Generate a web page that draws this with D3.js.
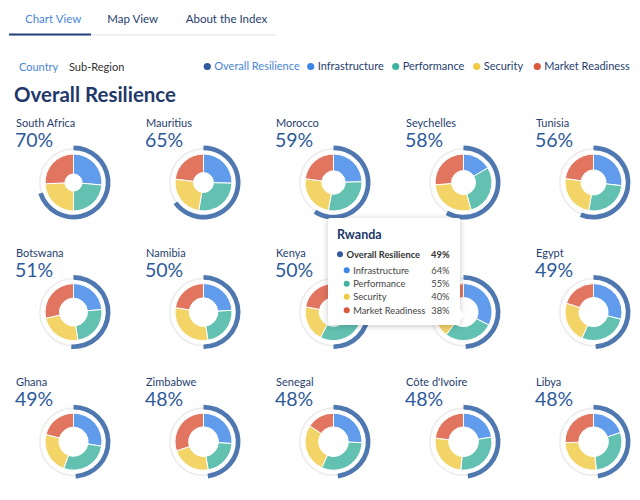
<!DOCTYPE html>
<html>
<head>
<meta charset="utf-8">
<script src="https://cdn.jsdelivr.net/npm/d3@7"></script>
<style>
  html, body { margin: 0; padding: 0; background: #fff; }
  svg { display: block; font-family: Lato, "Open Sans", sans-serif; }
</style>
</head>
<body>
<svg id="chart" width="640" height="500"></svg>
<script>
// ---- data ----
const tabs = ["Chart View", "Map View", "About the Index"];
const filters = ["Country", "Sub-Region"];
const seriesNames = ["Overall Resilience", "Infrastructure", "Performance", "Security", "Market Readiness"];
const seriesColors = ["#2f5b9c", "#3d86e6", "#40b3a0", "#f0ca45", "#da573c"];

const countries = ["South Africa", "Mauritius", "Morocco", "Seychelles", "Tunisia",
                   "Botswana", "Namibia", "Kenya", "Rwanda", "Egypt",
                   "Ghana", "Zimbabwe", "Senegal", "Côte d'Ivoire", "Libya"];
const overall        = [70, 65, 59, 58, 56, 51, 50, 50, 49, 49, 49, 48, 48, 48, 48];
const infrastructure = [74, 66, 58, 38, 60, 48, 48, 52, 64, 57, 54, 50, 49, 43, 38];
const performance    = [66, 71, 67, 68, 58, 49, 47, 63, 55, 54, 55, 41, 60, 56, 55];
const security       = [68, 63, 57, 65, 55, 49, 60, 41, 40, 46, 46, 43, 53, 49, 50];
const marketReadiness= [72, 60, 54, 61, 51, 58, 45, 44, 38, 39, 41, 58, 30, 44, 49];

const tooltipCountry = "Rwanda";

// ---- layout ----
const svg = d3.select("#chart");
const navy = "#263d6e";
const blueText = "#4a86d8";

const defs = svg.append("defs");
const f = defs.append("filter").attr("id", "shadow").attr("x", "-20%").attr("y", "-20%").attr("width", "140%").attr("height", "140%");
f.append("feDropShadow").attr("dx", 0).attr("dy", 1).attr("stdDeviation", 3).attr("flood-color", "#000").attr("flood-opacity", 0.22);

// tabs
const tabX = [25, 107.3, 185.7];
svg.append("line").attr("x1", 9).attr("x2", 276).attr("y1", 35).attr("y2", 35)
   .attr("stroke", "#dcdfe4").attr("stroke-width", 1);
svg.append("line").attr("x1", 9).attr("x2", 91).attr("y1", 34.5).attr("y2", 34.5)
   .attr("stroke", "#24417a").attr("stroke-width", 2);
svg.selectAll("text.tab").data(tabs).join("text").attr("class", "tab")
   .attr("x", (d, i) => tabX[i]).attr("y", 23)
   .attr("font-size", 11.5).attr("fill", (d, i) => i === 0 ? blueText : navy)
   .text(d => d);

// filters
const filterX = [19, 69];
svg.selectAll("text.filter").data(filters).join("text").attr("class", "filter")
   .attr("x", (d, i) => filterX[i]).attr("y", 71)
   .attr("font-size", 11).attr("fill", (d, i) => i === 0 ? blueText : "#333")
   .text(d => d);

// legend
const legendDotX = [207.3, 310.7, 395.7, 476.7, 537.3];
const lg = svg.selectAll("g.legend").data(seriesNames).join("g").attr("class", "legend")
   .attr("transform", (d, i) => `translate(${legendDotX[i]},66.5)`);
lg.append("circle").attr("r", 3.6).attr("fill", (d, i) => seriesColors[i]);
lg.append("text").attr("x", 7).attr("y", 3.8).attr("font-size", 11)
  .attr("fill", (d, i) => i === 0 ? blueText : navy).text(d => d);

// title
svg.append("text").attr("x", 14).attr("y", 102).attr("font-size", 21).attr("font-weight", 700)
   .attr("fill", "#22386a").attr("textLength", 162).attr("lengthAdjust", "spacingAndGlyphs")
   .text("Overall Resilience");

// donuts
const R = 28.5;
const colX = d3.scaleLinear().domain([0, 4]).range([73.5, 593.5]);
const rowY = d3.scaleLinear().domain([0, 2]).range([182.5, 441.7]);
const angle = d3.scaleLinear().domain([0, 100]).range([0, 2 * Math.PI]);
const innerR = d3.scaleLinear().domain([0, 100]).range([R, 0]);
const pie = d3.pie().sort(null).value(d => d);
const ringArc = d3.arc().innerRadius(32.3).outerRadius(37).startAngle(0);

const cards = svg.selectAll("g.card").data(countries).join("g").attr("class", "card")
  .attr("transform", (d, i) => `translate(${colX(i % 5)},${rowY(Math.floor(i / 5))})`);

// labels (the tooltip country's own card labels are hidden under the tooltip)
const labelled = cards.filter(d => d !== tooltipCountry);
labelled.append("text").attr("x", -57.5).attr("y", -55.3).attr("font-size", 11).attr("fill", navy)
  .text(d => d);
labelled.append("text").attr("x", -58.5).attr("y", -35.3).attr("font-size", 19.5).attr("fill", "#2d5a9b")
  .text(d => overall[countries.indexOf(d)] + "%");

cards.append("circle").attr("r", 33.6).attr("fill", "none").attr("stroke", "#ececec").attr("stroke-width", 1.6);
cards.append("path").attr("fill", "#4f77b0")
  .attr("d", (d, i) => ringArc({ endAngle: angle(overall[i]) }));

cards.each(function (d, i) {
  const vals = [infrastructure[i], performance[i], security[i], marketReadiness[i]];
  const arc = d3.arc().innerRadius(innerR(overall[i])).outerRadius(R);
  d3.select(this).selectAll("path.seg").data(pie(vals)).join("path").attr("class", "seg")
    .attr("d", arc).attr("fill", (p, k) => seriesColors[k + 1]).attr("fill-opacity", 0.82)
    .attr("stroke", "#fff").attr("stroke-width", 1);
});

// tooltip
const ti = countries.indexOf(tooltipCountry);
const tt = svg.append("g").attr("transform", "translate(328,218)");
tt.append("rect").attr("width", 132).attr("height", 107).attr("rx", 2).attr("fill", "#fff")
  .attr("filter", "url(#shadow)");
tt.append("path").attr("d", "M132,92 L137,97 L132,102 Z").attr("fill", "#fff");
tt.append("text").attr("x", 9).attr("y", 21).attr("font-size", 12.5).attr("font-weight", 700)
  .attr("fill", "#22386a").text(tooltipCountry);
const rows = [
  { name: seriesNames[0], v: overall[ti], c: seriesColors[0], bold: true, y: 39.5, dx: 12 },
  { name: seriesNames[1], v: infrastructure[ti], c: seriesColors[1], bold: false, y: 55.5, dx: 18.7 },
  { name: seriesNames[2], v: performance[ti], c: seriesColors[2], bold: false, y: 69, dx: 18.7 },
  { name: seriesNames[3], v: security[ti], c: seriesColors[3], bold: false, y: 82, dx: 18.7 },
  { name: seriesNames[4], v: marketReadiness[ti], c: seriesColors[4], bold: false, y: 95.5, dx: 18.7 }
];
const tr = tt.selectAll("g.row").data(rows).join("g").attr("class", "row")
  .attr("transform", d => `translate(0,${d.y})`);
tr.append("circle").attr("cx", d => d.dx).attr("cy", -3.2).attr("r", 3).attr("fill", d => d.c);
tr.append("text").attr("x", d => d.dx + 6.5).attr("font-size", 9.3)
  .attr("font-weight", d => d.bold ? 700 : 400).attr("fill", d => d.bold ? "#333" : "#444")
  .text(d => d.name);
tr.append("text").attr("x", 121.5).attr("text-anchor", "end").attr("font-size", 9.3)
  .attr("font-weight", d => d.bold ? 700 : 400).attr("fill", d => d.bold ? "#333" : "#444")
  .text(d => d.v + "%");
</script>
</body>
</html>
